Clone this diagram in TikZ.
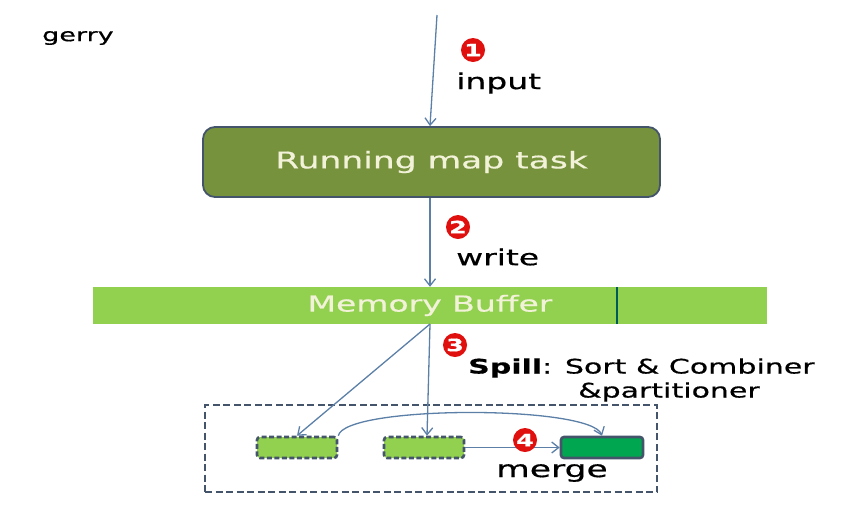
\documentclass[tikz,border=0pt]{standalone}
\usepackage{fontspec}
\setmainfont[FakeStretch=1.5,FakeBold=0.6]{DejaVu Sans}
\usetikzlibrary{arrows.meta}
\definecolor{arr}{HTML}{5B7FA6}
\definecolor{olive}{HTML}{76923C}
\definecolor{lgreen}{HTML}{92D050}
\definecolor{dgreen}{HTML}{00A650}
\definecolor{edge}{HTML}{44546A}
\definecolor{badge}{HTML}{E0100F}
\definecolor{cream}{HTML}{F2F2D8}
\begin{document}
\begin{tikzpicture}[x=1pt,y=-1pt,
  conn/.style={draw=arr,line width=1.3pt,-{Straight Barb[length=7pt,width=11pt]}},
  badge/.style={circle,fill=badge,text=white,inner sep=0pt,minimum size=24pt,font=\bfseries\fontsize{17}{17}\selectfont},
  lbl/.style={anchor=west,inner sep=0pt,font=\fontsize{22}{24}\selectfont},
  small/.style={draw=edge,line width=2.6pt,dash pattern=on 5pt off 2.5pt,rounded corners=3pt,minimum width=80pt,minimum height=21pt,inner sep=0pt}]
\useasboundingbox (0,0) rectangle (866,512);
\node[lbl,font=\fontsize{18}{20}\selectfont] (g) at (42,38) {gerry};
\coordinate (top) at (437,15);
\node[draw=edge,line width=1.8pt,fill=olive,rounded corners=12pt,minimum width=457pt,minimum height=70pt,text=cream,font=\fontsize{23}{24}\selectfont] (map) at (431.5,162) {Running map task};
\node[fill=lgreen,minimum width=674pt,minimum height=37pt,inner sep=0pt,text=cream,font=\fontsize{22}{24}\selectfont] (buf) at (430,305.5) {Memory Buffer};
\draw[draw=teal!70!black,line width=1.3pt] (617,287) -- (617,324);
\draw[conn] (top) -- (map.north -| 430,0);
\draw[conn] (map.south -| 430,0) -- (buf.north -| 430,0);
\node[badge] (b1) at (473,50) {1};
\node[lbl] (in) at (456,83) {input};
\node[badge] (b2) at (458,227) {2};
\node[lbl] (wr) at (456,257) {write};
\node[badge] (b3) at (455,345) {3};
\node[lbl,font=\fontsize{20}{22}\selectfont] (sp) at (468,368) {\textbf{Spill}: Sort \& Combiner};
\node[lbl,font=\fontsize{20}{22}\selectfont] (pa) at (578,392) {\&partitioner};
\node[draw=edge,line width=2.6pt,dash pattern=on 7pt off 3.5pt,minimum width=452pt,minimum height=87pt,inner sep=0pt] (box) at (431,448.5) {};
\node[small,fill=lgreen] (A) at (297,447.5) {};
\node[small,fill=lgreen] (B) at (424,447.5) {};
\node[small,fill=dgreen,solid,minimum width=82pt] (C) at (602,447.5) {};
\coordinate (bs) at (430,324);
\draw[conn] (bs) -- (A.north);
\draw[conn] (bs) -- (B.north -| 427,0);
\draw[conn] (B.east) -- (C.west);
\draw[conn] (A.north east) .. controls (345,405) and (590,405) .. (C.north);
\node[badge] (b4) at (525,440) {4};
\node[lbl,font=\fontsize{23}{24}\selectfont] (mg) at (496,473) {merge};
\end{tikzpicture}
\end{document}
